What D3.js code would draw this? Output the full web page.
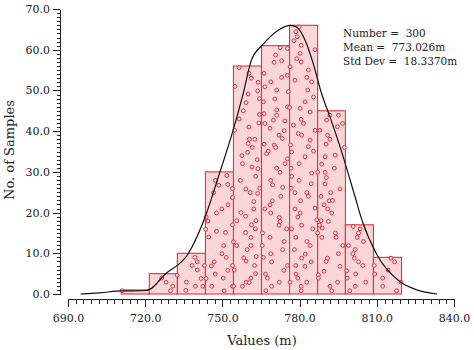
<!DOCTYPE html>
<html>
<head>
<meta charset="utf-8">
<script src="https://cdn.jsdelivr.net/npm/d3@7"></script>
<style>
  body { margin: 0; background: #fff; }
  text { font-family: "DejaVu Serif", serif; fill: #222; }
  .axis path, .axis line { stroke: #222; shape-rendering: crispEdges; }
  .stats { white-space: pre; }
</style>
</head>
<body>
<div id="chart"></div>
<script>

      // histogram bins (m) and counts
      var binEdges = [710.7, 721.6, 732.5, 743.4, 754.3, 765.2, 776.1, 787.0, 797.8, 808.7, 819.6];
      var binCounts = [1, 5, 10, 30, 56, 61, 66, 45, 17, 9];

      // x ticks / y ticks
      var xTicks = [690, 720, 750, 780, 810, 840];
      var yTicks = [0, 10, 20, 30, 40, 50, 60, 70];

      var statLabels = ["Number =  300", "Mean =  773.026m", "Std Dev =  18.3370m"];

      // density curve: [value, samples]
      var curvePts = [[694.9,0],[702.4,0.3],[710.9,0.75],[719.2,0.8],[721.9,1.2],[727.6,4.8],[736.7,9.9],
        [743.4,19.1],[748.3,28.5],[754.2,40.3],[758.1,49.3],[761.3,57.5],[765.5,61.1],[771.7,64.8],
        [776.3,66.0],[778.8,65.6],[782.1,62.4],[785.3,56.6],[788.5,49.3],[791.8,43.5],[795.7,36.2],
        [801.5,24.0],[804.2,18.2],[810.1,9.6],[819.1,3.0],[825.6,1.0],[833.4,0]];

      // individual samples: [value, stacked position]
      var samples = [
        [711.0,0.8],
        [726.4,3.9],[728.1,2.9],[730.7,1.9],[729.8,0.8],[732.4,4.6],
        [739.3,9.0],[740.2,7.9],[738.2,7.0],[743.0,7.0],[740.2,5.9],[741.7,3.8],[736.0,2.9],[735.8,0.9],[739.5,1.9],[742.4,1.9],
        [747.3,27.9],[751.7,29.1],[752.1,26.9],[748.6,26.7],[753.9,25.9],[746.6,24.9],[753.9,23.7],[752.2,21.9],[749.8,20.9],[747.7,19.9],
        [743.7,18.9],[744.4,17.9],[753.9,17.0],[743.5,15.9],[747.7,15.4],[751.2,15.1],[744.7,14.0],[750.5,11.9],[749.8,9.9],[751.5,9.0],
        [746.8,7.9],[745.7,6.9],[752.1,5.8],[747.2,4.9],[750.3,3.9],[745.9,1.9],[743.7,3.8],[753.9,1.9],[753.9,7.0],[750.7,0.8],
        [756.5,55.6],[754.9,51.0],[760.3,54.2],[761.2,53.0],[763.9,52.0],[763.7,49.9],[760.0,49.1],[759.2,47.0],[764.4,48.0],[758.1,45.0],
        [756.5,43.0],[764.4,44.1],[754.7,40.2],[760.3,41.0],[762.6,38.0],[760.5,38.0],[760.0,37.0],[761.6,36.0],[759.8,34.8],[757.6,34.0],
        [763.5,33.0],[764.2,42.0],
        [757.8,32.0],[761.5,31.2],[763.8,30.8],[762.9,28.9],[757.0,27.9],[759.1,25.8],[760.8,24.9],[763.7,24.7],[762.2,22.7],[762.2,20.9],
        [757.2,20.0],[759.0,19.1],[755.6,18.0],[763.0,18.0],[761.3,17.0],[762.8,16.0],[759.0,15.1],[761.1,13.9],[754.3,12.8],[755.5,11.9],
        [761.1,11.9],[759.6,10.9],[758.3,8.9],[759.2,8.1],[763.1,9.2],[762.5,7.0],[754.6,5.9],[761.1,3.9],[762.9,5.0],[759.2,2.9],
        [754.4,1.9],[757.8,1.9],[760.4,2.8],[764.5,26.0],
        [772.5,60.5],[775.3,60.3],[770.7,58.7],[773.0,57.3],[770.1,56.9],[766.2,54.2],[768.8,52.1],[773.0,53.2],[775.3,53.7],[766.5,50.9],
        [771.1,50.1],[775.6,49.7],[770.4,47.9],[765.9,47.2],[775.3,46.0],[766.2,44.3],[771.1,45.2],[771.1,43.9],[769.8,42.7],[766.5,41.9],
        [774.3,42.5],[768.5,40.7],[772.0,39.0],[773.3,38.2],[774.0,40.1],[770.1,36.6],[770.7,36.0],[767.2,34.5],[775.3,33.2],[766.2,36.8],
        [767.8,35.1],
        [771.1,30.9],[772.4,29.9],[774.3,32.0],[768.8,27.9],[769.5,26.8],[773.4,26.2],[769.4,22.9],[768.5,21.9],[766.5,20.9],[768.8,19.9],
        [772.7,24.0],[772.1,18.8],[772.4,17.8],[772.0,16.9],[775.0,16.0],[765.6,15.0],[768.5,13.9],[774.0,12.9],[765.5,11.9],[773.4,10.9],
        [765.9,9.0],[768.8,9.9],[769.1,7.9],[775.3,7.0],[773.9,5.8],[766.8,4.9],[767.5,3.9],[769.1,1.9],[766.9,0.8],[772.1,2.9],
        [779.8,65.6],[778.5,64.4],[779.1,63.2],[777.8,62.2],[780.6,61.1],[780.2,59.1],[778.9,57.8],[780.6,57.0],[786.0,60.0],[783.4,55.0],
        [782.8,53.2],[784.7,52.1],[783.2,50.1],[782.1,47.2],[784.1,44.7],[780.6,42.9],[781.5,41.9],[779.5,39.4],[777.6,41.5],[776.5,36.6],
        [780.8,39.0],[783.4,36.2],[784.1,37.8],[785.4,35.1],[782.1,33.7],[776.9,34.9],[776.1,45.8],[776.3,55.8],[778.2,52.5],[785.4,48.4],
        [780.2,45.6],[786.0,40.2],
        [776.7,30.9],[779.8,32.0],[776.9,28.9],[776.7,26.0],[779.8,27.9],[778.2,24.9],[784.5,27.1],[782.8,24.9],[783.4,24.0],[780.4,22.9],
        [778.2,20.9],[780.2,19.9],[779.3,18.9],[780.8,16.9],[776.9,16.0],[785.1,16.0],[778.5,13.9],[782.8,12.9],[784.1,11.9],[778.0,10.9],
        [780.8,8.8],[782.2,9.8],[784.5,7.9],[778.5,7.0],[782.1,6.8],[778.6,4.9],[779.3,3.9],[780.6,1.9],[780.6,0.8],[776.3,2.9],
        [782.8,2.9],[786.0,21.1],[784.7,29.7],[786.7,18.2],
        [791.8,43.9],[795.1,43.9],[790.5,42.7],[796.7,41.9],[794.7,41.1],[790.9,39.0],[791.8,38.0],[790.3,36.8],[797.4,36.0],[793.8,34.1],
        [789.9,33.7],[787.9,40.2],
        [788.6,31.9],[787.0,29.9],[789.9,29.9],[790.4,28.6],[793.5,30.9],[789.9,27.0],[792.1,24.9],[795.7,25.8],[788.3,24.0],[791.5,22.9],
        [789.5,21.9],[792.8,23.0],[790.9,20.9],[792.5,19.9],[791.2,17.8],[788.3,18.0],[788.8,16.2],[787.0,15.0],[793.9,15.0],[794.2,13.9],
        [788.6,13.9],[795.1,9.9],[790.8,8.8],[790.3,8.0],[795.7,6.8],[787.3,4.7],[787.3,3.9],[789.5,5.6],[794.7,2.9],[791.8,1.9],
        [792.5,0.8],[796.8,11.9],[787.7,16.9],
        [800.8,16.6],[802.9,15.0],[802.4,13.9],[803.5,16.0],[804.8,12.9],[801.6,10.9],[800.7,9.9],[801.3,8.8],[799.0,11.9],[804.6,7.0],
        [801.8,4.9],[798.5,3.9],[805.7,2.9],[801.6,1.9],[799.5,0.8],[798.3,5.7],[802.9,7.9],
        [815.5,8.8],[816.9,7.9],[814.4,5.9],[809.0,7.0],[809.2,4.9],[812.3,3.9],[812.3,1.9],[817.7,0.8],[819.4,2.9]
      ];

      var width = 474, height = 350;

      var svg = d3.select("#chart").append("svg")
          .attr("width", width)
          .attr("height", height);

      ////// Define Scales /////////////////
      var xScale = d3.scaleLinear()
          .domain([690, 840])
          .range([68, 454]);
      var yScale = d3.scaleLinear()
          .domain([0, 70])
          .range([294, 9]);

      /////// Axes //////////////////////////////
      var xMinor = d3.axisBottom(xScale).tickValues(d3.range(690, 841, 3))
          .tickSize(5).tickSizeOuter(0).tickFormat("");
      var xMajor = d3.axisBottom(xScale).tickValues(xTicks)
          .tickSize(8).tickSizeOuter(0).tickPadding(7).tickFormat(d3.format(".1f"));

      var yMinor = d3.axisLeft(yScale).tickValues(d3.range(0, 71, 1))
          .tickSize(3).tickSizeOuter(0).tickFormat("");
      var yMajor = d3.axisLeft(yScale).tickValues(yTicks)
          .tickSize(7).tickSizeOuter(0).tickPadding(3).tickFormat(d3.format(".1f"));

      svg.append("g").attr("class", "axis")
          .attr("transform", "translate(0,299)")
          .call(xMinor);
      svg.append("g").attr("class", "axis")
          .attr("transform", "translate(0,299)")
          .call(xMajor)
          .selectAll("text").style("font-size", "11px").attr("fill", "#222");

      svg.append("g").attr("class", "axis")
          .attr("transform", "translate(60,0)")
          .call(yMinor);
      svg.append("g").attr("class", "axis")
          .attr("transform", "translate(60,0)")
          .call(yMajor)
          .selectAll("text").style("font-size", "11px").attr("fill", "#222");

      svg.selectAll(".axis .domain").attr("stroke-width", 1.2);

      // axis titles
      svg.append("text")
          .attr("x", 262)
          .attr("y", 345)
          .attr("text-anchor", "middle")
          .style("font-size", "13px")
          .text("Values (m)");

      svg.append("text")
          .attr("transform", "translate(14,150) rotate(-90)")
          .attr("text-anchor", "middle")
          .style("font-size", "13px")
          .text("No. of Samples");

      /////// Bars //////////////////////////////
      svg.append("g")
          .selectAll("rect")
          .data(binCounts)
          .enter()
          .append("rect")
          .attr("x", function(d, i) { return xScale(binEdges[i]); })
          .attr("width", function(d, i) { return xScale(binEdges[i + 1]) - xScale(binEdges[i]); })
          .attr("y", function(d) { return yScale(d); })
          .attr("height", function(d) { return yScale(0) - yScale(d); })
          .attr("fill", "#fad6d9")
          .attr("stroke", "#e2343f")
          .attr("stroke-width", 1.1);

      /////// Sample points ///////////////////////
      svg.append("g")
          .selectAll("circle")
          .data(samples)
          .enter()
          .append("circle")
          .attr("cx", function(d) { return xScale(d[0]); })
          .attr("cy", function(d) { return yScale(d[1]); })
          .attr("r", 1.9)
          .attr("fill", "#fbe4e6")
          .attr("stroke", "#dd2a38")
          .attr("stroke-width", 1);

      /////// Density curve ///////////////////////
      var line = d3.line()
          .x(function(d) { return xScale(d[0]); })
          .y(function(d) { return yScale(d[1]); })
          .curve(d3.curveMonotoneX);

      svg.append("path")
          .datum(curvePts)
          .attr("d", line)
          .attr("fill", "none")
          .attr("stroke", "#111")
          .attr("stroke-width", 1.2);

      /////// Stats ///////////////////////////
      svg.append("g")
          .selectAll("text")
          .data(statLabels)
          .enter()
          .append("text")
          .attr("class", "stats")
          .attr("x", 343)
          .attr("y", function(d, i) { return 37 + i * 14; })
          .style("font-size", "10.5px")
          .text(function(d) { return d; });

</script>
</body>
</html>
